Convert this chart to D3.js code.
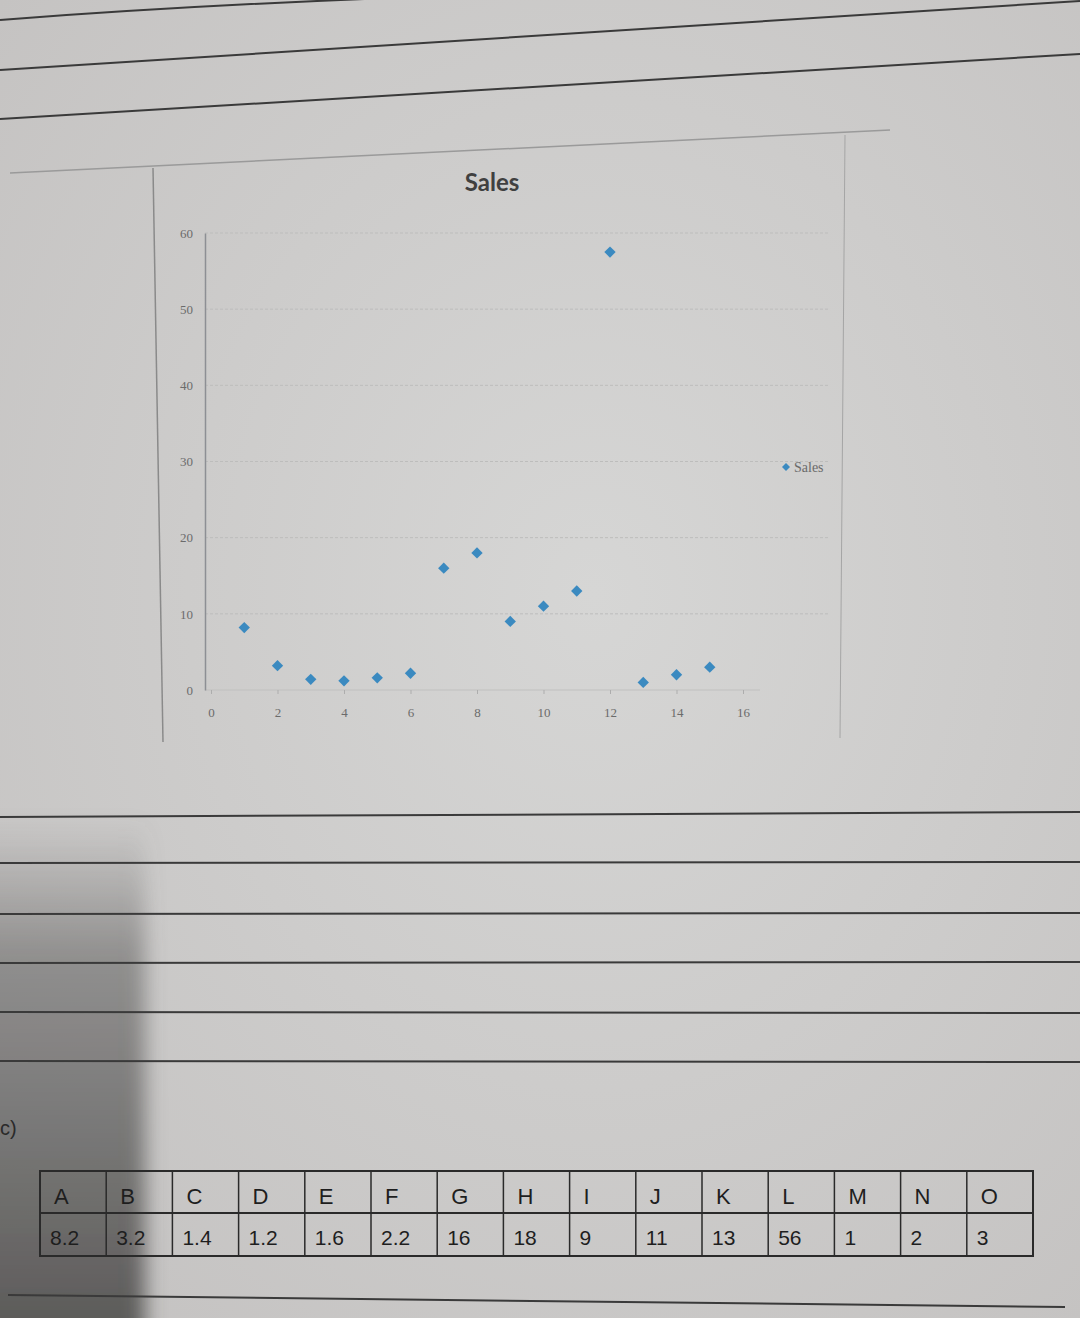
<!DOCTYPE html>
<html><head><meta charset="utf-8">
<script src="https://cdn.jsdelivr.net/npm/d3@7"></script>
<style>
html,body{margin:0;padding:0;background:#cbcac9;}
svg{display:block;}
</style></head>
<body>
<svg id="c" width="1080" height="1318"></svg>
<script>
// ---- data ----
const xValues = [1,2,3,4,5,6,7,8,9,10,11,12,13,14,15];
const salesValues = [8.2,3.2,1.4,1.2,1.6,2.2,16,18,9,11,13,57.5,1,2,3];
const xTicks = [0,2,4,6,8,10,12,14,16];
const yTicks = [0,10,20,30,40,50,60];
const tableLetters = ["A","B","C","D","E","F","G","H","I","J","K","L","M","N","O"];
const tableValues = ["8.2","3.2","1.4","1.2","1.6","2.2","16","18","9","11","13","56","1","2","3"];
const chartTitle = "Sales";
const seriesName = "Sales";

const svg = d3.select("#c");
const defs = svg.append("defs");
const rg = defs.append("radialGradient").attr("id","paper").attr("cx","0.55").attr("cy","0.45").attr("r","0.75");
rg.append("stop").attr("offset","0").attr("stop-color","#d6d6d5");
rg.append("stop").attr("offset","1").attr("stop-color","#c4c2c1");
const sg = defs.append("linearGradient").attr("id","shadow").attr("x1","0").attr("x2","0").attr("y1","0").attr("y2","1");
sg.append("stop").attr("offset","0").attr("stop-color","#6a6968").attr("stop-opacity","0");
sg.append("stop").attr("offset","0.25").attr("stop-color","#626160").attr("stop-opacity","0.55");
sg.append("stop").attr("offset","1").attr("stop-color","#4a4948").attr("stop-opacity","0.9");
const f = defs.append("filter").attr("id","blur").attr("x","-50%").attr("y","-50%").attr("width","200%").attr("height","200%");
f.append("feGaussianBlur").attr("stdDeviation","10");

svg.append("rect").attr("width",1080).attr("height",1318).attr("fill","url(#paper)");
// shadow on lower-left
svg.append("rect").attr("x",-40).attr("y",820).attr("width",185).attr("height",540)
  .attr("fill","url(#shadow)").attr("filter","url(#blur)");

// ---- ruled lines ----
const rule = (x1,y1,x2,y2,w=2,c="#3a3a3a") =>
  svg.append("line").attr("x1",x1).attr("y1",y1).attr("x2",x2).attr("y2",y2)
    .attr("stroke",c).attr("stroke-width",w);
svg.append("path").attr("d","M0,20 Q180,6 390,-2").attr("fill","none").attr("stroke","#3a3a3a").attr("stroke-width",2);
svg.append("path").attr("d","M0,70 Q500,40 1080,1").attr("fill","none").attr("stroke","#3a3a3a").attr("stroke-width",2);
svg.append("path").attr("d","M0,119 Q520,90 1080,54").attr("fill","none").attr("stroke","#3a3a3a").attr("stroke-width",2);
[[817,812],[863,862],[914,913],[963,962],[1012,1013],[1061,1062]].forEach(([a,b])=>rule(0,a,1080,b));
svg.append("path").attr("d","M8,1295 Q500,1302 1065,1307").attr("fill","none").attr("stroke","#3a3a3a").attr("stroke-width",2);

// ---- chart frame ----
rule(10,173,890,130,1.5,"#9a9a9a");
rule(153,168,163,742,1.5,"#8a8a8a");
rule(845,135,840,738,1,"#a5a5a5");

// ---- chart ----
const x = d3.scaleLinear().domain([0,16]).range([211,743]);
const y = d3.scaleLinear().domain([0,60]).range([690,233]);
const g = svg.append("g");

// gridlines
g.selectAll("line.grid").data(yTicks.filter(d=>d>0)).join("line").attr("class","grid")
  .attr("x1",205).attr("x2",830).attr("y1",d=>y(d)).attr("y2",d=>y(d))
  .attr("stroke","#bdbdbc").attr("stroke-width",1).attr("stroke-dasharray","3,2");
g.append("line").attr("x1",205).attr("x2",760).attr("y1",y(0)).attr("y2",y(0))
  .attr("stroke","#c0c0bf").attr("stroke-width",1);

// axes
const yAxis = g.append("g").attr("transform","translate(205,0)")
  .call(d3.axisLeft(y).tickValues(yTicks).tickSize(0).tickPadding(12));
yAxis.select(".domain").attr("stroke","#8d8f94").attr("stroke-width",1.5);
yAxis.selectAll("text").attr("font-family","Liberation Serif").attr("font-size",13).attr("fill","#6b6b6b");

const xAxis = g.append("g").attr("transform",`translate(0,${y(0)})`)
  .call(d3.axisBottom(x).tickValues(xTicks).tickSize(4).tickPadding(14));
xAxis.select(".domain").remove();
xAxis.selectAll("line").attr("stroke","#adadad");
xAxis.selectAll("text").attr("font-family","Liberation Serif").attr("font-size",13).attr("fill","#6b6b6b");

// points (square rotated 45deg = Excel diamond)
const diamond = d3.symbol().type(d3.symbolSquare).size(64);
g.selectAll("path.pt").data(xValues.map((v,i)=>[v,salesValues[i]])).join("path").attr("class","pt")
  .attr("d",diamond).attr("transform",d=>`translate(${x(d[0])},${y(d[1])}) rotate(45)`)
  .attr("fill","#3b8ac0");

// title
svg.append("text").attr("x",492).attr("y",191).attr("text-anchor","middle")
  .attr("font-family","Lato, 'Open Sans', sans-serif").attr("font-weight","bold").attr("font-size",24)
  .attr("fill","#404040").text(chartTitle);

// legend
svg.append("path").attr("d",d3.symbol().type(d3.symbolSquare).size(32)).attr("transform","translate(786,467) rotate(45)").attr("fill","#3b8ac0");
svg.append("text").attr("x",794).attr("y",472).attr("font-family","Liberation Serif").attr("font-size",14)
  .attr("fill","#6b6b6b").text(seriesName);

// ---- c) label ----
svg.append("text").attr("x",0).attr("y",1135).attr("font-family","Liberation Sans, Arial").attr("font-size",20).attr("fill","#2a2a2a").text("c)");

// ---- table ----
const colX = d3.scaleBand().domain(tableLetters).range([40,1033]);
const tb = svg.append("g");
const rowTop = 1171, rowMid = 1213, rowBot = 1256;
tb.append("rect").attr("x",40).attr("y",rowTop).attr("width",993).attr("height",rowBot-rowTop)
  .attr("fill","none").attr("stroke","#2a2a2a").attr("stroke-width",2);
tb.append("line").attr("x1",40).attr("x2",1033).attr("y1",rowMid).attr("y2",rowMid).attr("stroke","#2a2a2a").attr("stroke-width",2);
tb.selectAll("line.col").data(tableLetters.slice(1)).join("line").attr("class","col")
  .attr("x1",d=>colX(d)).attr("x2",d=>colX(d)).attr("y1",rowTop).attr("y2",rowBot)
  .attr("stroke","#2a2a2a").attr("stroke-width",1.5);
tb.selectAll("text.h").data(tableLetters).join("text").attr("class","h")
  .attr("x",d=>colX(d)+14).attr("y",1204)
  .attr("font-family","Liberation Sans, Arial").attr("font-size",22).attr("fill","#1e1e1e").text(d=>d);
tb.selectAll("text.v").data(tableValues).join("text").attr("class","v")
  .attr("x",(d,i)=>colX(tableLetters[i])+10).attr("y",1245)
  .attr("font-family","Liberation Sans, Arial").attr("font-size",21).attr("fill","#1e1e1e").text(d=>d);
</script>
</body></html>
